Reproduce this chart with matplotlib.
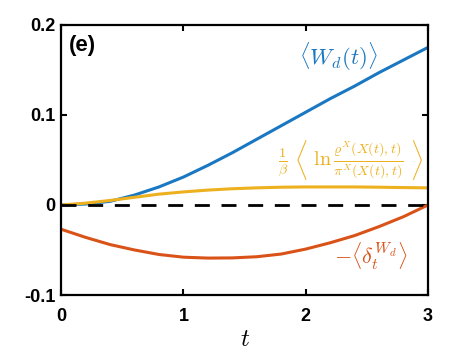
import matplotlib
matplotlib.use("Agg")
import matplotlib.pyplot as plt

plt.rcParams['font.family'] = ['Liberation Sans', 'DejaVu Sans']
plt.rcParams['mathtext.fontset'] = 'cm'
plt.rcParams['axes.unicode_minus'] = False

t = [0, 0.2, 0.4, 0.6, 0.8, 1.0, 1.2, 1.4, 1.6, 1.8, 2.0, 2.2, 2.4, 2.6, 2.8, 3.0]
work = [0, 0.001, 0.004, 0.011, 0.020, 0.031, 0.044, 0.058, 0.073, 0.088, 0.103,
        0.118, 0.132, 0.147, 0.161, 0.175]
entropy = [0, 0.002, 0.005, 0.0085, 0.012, 0.0145, 0.0165, 0.018, 0.019, 0.0197,
           0.020, 0.020, 0.020, 0.0197, 0.0193, 0.019]
delta = [-0.027, -0.036, -0.044, -0.050, -0.055, -0.058, -0.059, -0.0588, -0.0575,
         -0.0545, -0.049, -0.042, -0.034, -0.024, -0.013, 0.0]

xticks = [0, 1, 2, 3]
yticks = [-0.1, 0, 0.1, 0.2]
yticklabels = ['-0.1', '0', '0.1', '0.2']

blue = '#1a78c2'
orange = '#D95319'
yellow = '#EDB120'

fig = plt.figure(figsize=(4.74, 3.55), dpi=100)
ax = fig.add_axes([0.129, 0.169, 0.774, 0.761])

ax.plot(t, work, color=blue, lw=2.2)
ax.plot(t, entropy, color=yellow, lw=2.2)
ax.plot(t, delta, color=orange, lw=2.2)
ax.plot([0, 3], [0, 0], color='black', lw=2, ls=(0, (5.4, 4.2)))

ax.set_xlim(0, 3)
ax.set_ylim(-0.1, 0.2)
ax.set_xticks(xticks)
ax.set_xticklabels([str(v) for v in xticks])
ax.set_yticks(yticks)
ax.set_yticklabels(yticklabels)
for lab in ax.get_xticklabels() + ax.get_yticklabels():
    lab.set_fontweight('bold')
    lab.set_fontsize(13)
ax.tick_params(direction='in', top=True, right=True, length=4, width=1.5, pad=4)
ax.tick_params(axis='x', pad=9)
for sp in ax.spines.values():
    sp.set_linewidth(1.6)
ax.set_xlabel(r'$t$', fontsize=18, labelpad=2)

ax.text(0.02, 0.925, '(e)', transform=ax.transAxes, fontsize=16, fontweight='bold',
        va='center', ha='left')
ax.text(2.27, 0.1644, r'$\langle W_d(t)\rangle$', color=blue, fontsize=16.5,
        ha='center', va='center')
ax.text(1.77, 0.0494,
        r'$\frac{1}{\beta}\ \left\langle\ \ln\frac{\varrho^X(X(t),t)}{\pi^X(X(t),t)}\ \right\rangle$',
        color=yellow, fontsize=14.5, ha='left', va='center')
ax.text(2.535, -0.057, r'$-\langle\delta_t^{W_d}\rangle$', color=orange, fontsize=16,
        ha='center', va='center')

fig.savefig('out.png', dpi=100)
